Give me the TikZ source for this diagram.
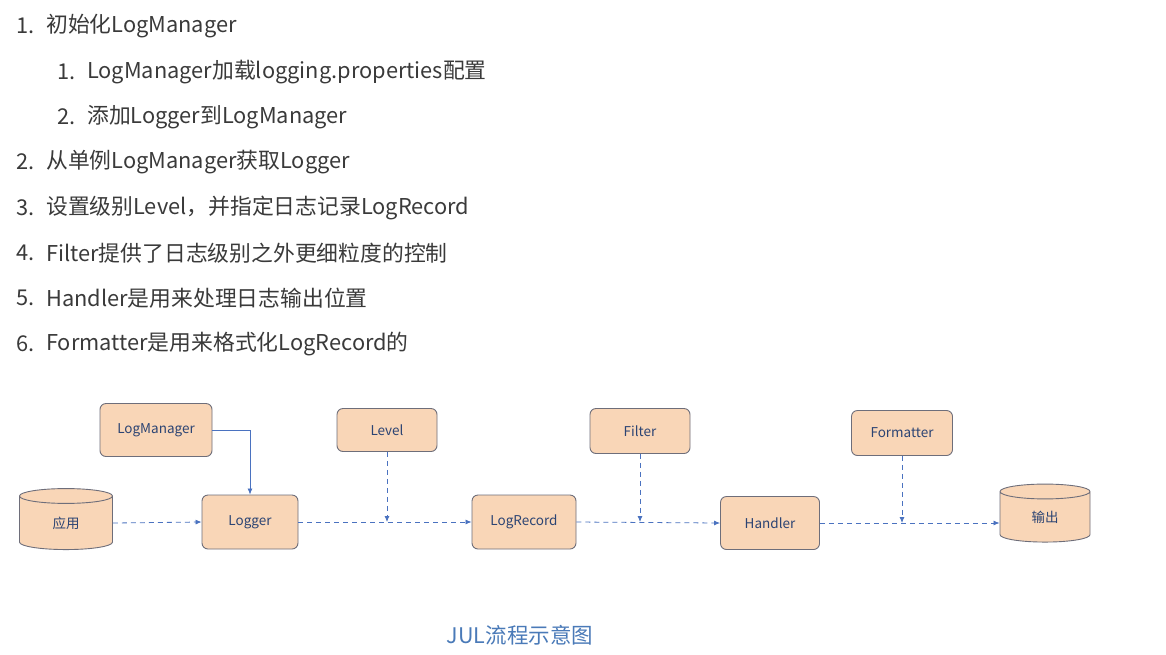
\documentclass[tikz,border=0pt]{standalone}
\usepackage{fontspec}
\setmainfont{Noto Sans CJK SC}
\usetikzlibrary{shapes.geometric,arrows.meta}
\definecolor{txt}{HTML}{3A3A3A}
\definecolor{boxf}{HTML}{F9D6B7}
\definecolor{boxd}{HTML}{6E6E7A}
\definecolor{arr}{HTML}{4A72C0}
\definecolor{cap}{HTML}{4A7AB8}
\tikzset{
  item/.style={anchor=west,inner sep=0pt,text=txt,font=\fontsize{21.8}{24}\selectfont},
  box/.style={draw=boxd,fill=boxf,rounded corners=6pt,line width=0.9pt,text=arr!60!black,font=\fontsize{13.5}{15}\selectfont,inner sep=0pt},
  cyl/.style={cylinder,shape border rotate=90,aspect=0.55,draw=boxd,fill=boxf,line width=0.9pt,text=arr!60!black,font=\fontsize{13.5}{15}\selectfont,inner sep=0pt},
  flow/.style={draw=arr,dashed,dash pattern=on 5pt off 4pt,line width=0.8pt,-{Latex[length=6pt,width=5pt]}},
  solidflow/.style={draw=arr,line width=0.8pt,-{Latex[length=6pt,width=5pt]}}
}
\begin{document}
\begin{tikzpicture}[x=1pt,y=-1pt]
\useasboundingbox[fill=white] (0,0) rectangle (1166,654);
\node[item] (n1) at (16,26) {1.};   \node[item] (t1) at (46,26) {初始化LogManager};
\node[item] (n11) at (57,72) {1.};  \node[item] (t11) at (87,72) {LogManager加载logging.properties配置};
\node[item] (n12) at (57,117) {2.}; \node[item] (t12) at (87,117) {添加Logger到LogManager};
\node[item] (n2) at (16,162) {2.};  \node[item] (t2) at (46,162) {从单例LogManager获取Logger};
\node[item] (n3) at (16,208) {3.};  \node[item] (t3) at (46,208) {设置级别Level，并指定日志记录LogRecord};
\node[item] (n4) at (16,253) {4.};  \node[item] (t4) at (46,253) {Filter提供了日志级别之外更细粒度的控制};
\node[item] (n5) at (16,298) {5.};  \node[item] (t5) at (46,298) {Handler是用来处理日志输出位置};
\node[item] (n6) at (16,344) {6.};  \node[item] (t6) at (46,344) {Formatter是用来格式化LogRecord的};

\node[box,minimum width=112pt,minimum height=53pt] (lm) at (156,430) {LogManager};
\node[box,minimum width=100pt,minimum height=43pt] (lv) at (387,430) {Level};
\node[box,minimum width=100pt,minimum height=45pt] (fi) at (640,431) {Filter};
\node[box,minimum width=101pt,minimum height=45pt] (fo) at (902,433) {Formatter};
\node[cyl,minimum width=93pt,minimum height=61pt] (app) at (66,523) {应用};
\node[box,minimum width=96pt,minimum height=54pt] (lg) at (250,522) {Logger};
\node[box,minimum width=104pt,minimum height=54pt] (lr) at (524,522) {LogRecord};
\node[box,minimum width=99pt,minimum height=53pt] (hd) at (770,523) {Handler};
\node[cyl,minimum width=90pt,minimum height=58pt] (out) at (1045,517) {输出};

\coordinate (j1) at (lv.south |- lg.east);
\coordinate (j2) at (fi.south |- lr.east);
\coordinate (j3) at (fo.south |- hd.east);
\draw[solidflow] (lm.east) -| (lg.north);
\draw[flow] (app.east) -- (lg.west);
\draw[flow] (lg.east) -- (lr.west);
\draw[flow] (lr.east) -- (hd.west);
\draw[flow] (hd.east) -- (hd.east -| out.west);
\draw[flow] (lv.south) -- (j1);
\draw[flow] (fi.south) -- (j2);
\draw[flow] (fo.south) -- (j3);
\node[text=cap,font=\fontsize{21.5}{24}\selectfont] (cp) at (520,635) {JUL流程示意图};
\end{tikzpicture}
\end{document}
